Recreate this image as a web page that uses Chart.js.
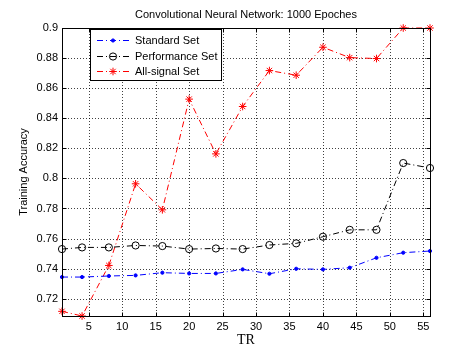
<!DOCTYPE html>
<html>
<head>
<meta charset="utf-8">
<script src="https://cdn.jsdelivr.net/npm/chart.js@4.4.1/dist/chart.umd.min.js"></script>
<style>
  html, body { margin: 0; padding: 0; background: #fff; }
  #wrap { width: 474px; height: 355px; position: relative; }
</style>
</head>
<body>
<div id="wrap"><canvas id="c" width="474" height="355"></canvas></div>
<script>
const chartTitle = 'Convolutional Neural Network: 1000 Epoches';
const xAxisTitle = 'TR';
const yAxisTitle = 'Training Accuracy';
const seriesNames = ['Standard Set', 'Performance Set', 'All-signal Set'];
const trValues = [1, 4, 8, 12, 16, 20, 24, 28, 32, 36, 40, 44, 48, 52, 56];
const standardSet = [0.7344, 0.7344, 0.7351, 0.7355, 0.7373, 0.7368, 0.7368, 0.7395, 0.7366, 0.7399, 0.7395, 0.7406, 0.7472, 0.7506, 0.7517];
const performanceSet = [0.7530, 0.7541, 0.7541, 0.7554, 0.7550, 0.7530, 0.7534, 0.7530, 0.7557, 0.7568, 0.7612, 0.7658, 0.7658, 0.8102, 0.8069];
const allSignalSet = [0.7116, 0.7085, 0.7421, 0.7964, 0.7791, 0.8527, 0.8163, 0.8478, 0.8717, 0.8686, 0.8872, 0.8803, 0.8797, 0.9000, 0.9000];
const xTicks = [5, 10, 15, 20, 25, 30, 35, 40, 45, 50, 55];
const yTicks = [0.72, 0.74, 0.76, 0.78, 0.80, 0.82, 0.84, 0.86, 0.88, 0.90];
const xRange = [1, 56];
const yRange = [0.7085, 0.9];

const SANS = '"Liberation Sans", Arial, sans-serif';
const SERIF = '"Liberation Serif", "Times New Roman", serif';
const dashDot = [6, 3, 1, 3];

function toPoints(vals) { return trValues.map((x, i) => ({ x: x, y: vals[i] })); }

const datasets = [
  { label: seriesNames[0], data: toPoints(standardSet), borderColor: '#0000ff', backgroundColor: '#0000ff',
    pointStyle: 'circle', pointRadius: 1.6, pointBorderWidth: 1, pointBackgroundColor: '#0000ff', pointBorderColor: '#0000ff' },
  { label: seriesNames[1], data: toPoints(performanceSet), borderColor: '#000000', backgroundColor: 'rgba(0,0,0,0)',
    pointStyle: 'circle', pointRadius: 3.6, pointBorderWidth: 1, pointBackgroundColor: 'rgba(0,0,0,0)', pointBorderColor: '#000000' },
  { label: seriesNames[2], data: toPoints(allSignalSet), borderColor: '#ff0000', backgroundColor: '#ff0000',
    pointStyle: 'star', pointRadius: 3.8, pointBorderWidth: 1, pointBackgroundColor: '#ff0000', pointBorderColor: '#ff0000' }
].map(d => Object.assign(d, { borderWidth: 1, borderDash: dashDot, tension: 0, clip: false, fill: false, pointHoverRadius: d.pointRadius }));

const framePlugin = {
  id: 'frame',
  beforeDatasetsDraw(chart) {
    const ctx = chart.ctx, a = chart.chartArea;
    const xs = chart.scales.x, ys = chart.scales.y;
    ctx.save();
    ctx.strokeStyle = 'rgba(0,0,0,0.75)';
    ctx.lineWidth = 1;
    ctx.setLineDash([1, 2]);
    xTicks.forEach(v => {
      const px = Math.round(xs.getPixelForValue(v)) + 0.5;
      ctx.beginPath(); ctx.moveTo(px, a.top); ctx.lineTo(px, a.bottom); ctx.stroke();
    });
    yTicks.forEach(v => {
      const py = Math.round(ys.getPixelForValue(v)) + 0.5;
      if (Math.abs(py - a.top) < 1.5) return;
      ctx.beginPath(); ctx.moveTo(a.left, py); ctx.lineTo(a.right, py); ctx.stroke();
    });
    ctx.restore();
  },
  afterDatasetsDraw(chart) {
    const ctx = chart.ctx, a = chart.chartArea;
    const xs = chart.scales.x, ys = chart.scales.y;
    ctx.save();
    ctx.strokeStyle = '#000';
    ctx.lineWidth = 1;
    ctx.setLineDash([]);
    const L = Math.round(a.left) + 0.5, R = Math.round(a.right) + 0.5;
    const T = Math.round(a.top) + 0.5, B = Math.round(a.bottom) + 0.5;
    ctx.strokeRect(L, T, R - L, B - T);
    const tl = 4;
    xTicks.forEach(v => {
      const px = Math.round(xs.getPixelForValue(v)) + 0.5;
      ctx.beginPath(); ctx.moveTo(px, B); ctx.lineTo(px, B - tl); ctx.moveTo(px, T); ctx.lineTo(px, T + tl); ctx.stroke();
    });
    yTicks.forEach(v => {
      const py = Math.round(ys.getPixelForValue(v)) + 0.5;
      ctx.beginPath(); ctx.moveTo(L, py); ctx.lineTo(L + tl, py); ctx.moveTo(R, py); ctx.lineTo(R - tl, py); ctx.stroke();
    });
    ctx.restore();
  },
  afterDraw(chart) {
    const ctx = chart.ctx, a = chart.chartArea;
    ctx.save();
    ctx.fillStyle = '#000';
    ctx.textAlign = 'center';
    ctx.textBaseline = 'middle';
    ctx.font = '11px ' + SANS;
    ctx.fillText(chartTitle, (a.left + a.right) / 2, 15);
    ctx.font = '14px ' + SERIF;
    ctx.fillText(xAxisTitle, (a.left + a.right) / 2, 340);
    ctx.save();
    ctx.translate(24, (a.top + a.bottom) / 2);
    ctx.rotate(-Math.PI / 2);
    ctx.font = '11px ' + SANS;
    ctx.fillText(yAxisTitle, 0, 0);
    ctx.restore();
    ctx.restore();

    // legend
    const bx = 90.5, by = 29.5, bw = 131, bh = 51;
    ctx.save();
    ctx.fillStyle = '#fff';
    ctx.fillRect(bx, by, bw, bh);
    ctx.strokeStyle = '#000';
    ctx.lineWidth = 1;
    ctx.strokeRect(bx, by, bw, bh);
    ctx.restore();
    const rows = [40, 55.5, 71];
    chart.data.datasets.forEach((ds, i) => {
      const y = Math.round(rows[i]) + 0.5;
      ctx.save();
      ctx.strokeStyle = ds.borderColor;
      ctx.lineWidth = 1;
      ctx.setLineDash(dashDot);
      ctx.beginPath(); ctx.moveTo(97, y); ctx.lineTo(129, y); ctx.stroke();
      ctx.setLineDash([]);
      ctx.fillStyle = ds.pointBackgroundColor;
      ctx.strokeStyle = ds.pointBorderColor;
      ctx.lineWidth = ds.pointBorderWidth;
      Chart.helpers.drawPoint(ctx, {
        pointStyle: ds.pointStyle, radius: ds.pointRadius, rotation: 0, borderWidth: ds.pointBorderWidth
      }, 113, y);
      ctx.restore();
      ctx.save();
      ctx.fillStyle = '#000';
      ctx.font = '11px ' + SANS;
      ctx.textAlign = 'left';
      ctx.textBaseline = 'middle';
      ctx.fillText(ds.label, 135, y);
      ctx.restore();
    });
  }
};

new Chart(document.getElementById('c'), {
  type: 'line',
  data: { datasets: datasets },
  options: {
    responsive: false,
    animation: false,
    devicePixelRatio: 1,
    layout: { padding: { left: 0, right: 44, top: 28, bottom: 0 } },
    plugins: { legend: { display: false }, title: { display: false }, tooltip: { enabled: false } },
    scales: {
      x: {
        type: 'linear', min: xRange[0], max: xRange[1],
        afterBuildTicks: s => { s.ticks = xTicks.map(v => ({ value: v })); },
        afterFit: s => { s.height = 39; },
        grid: { display: false, drawTicks: false },
        border: { display: false },
        ticks: { padding: 4, color: '#000', font: { family: SANS, size: 11 }, maxRotation: 0, autoSkip: false,
                 callback: v => String(v) }
      },
      y: {
        type: 'linear', min: yRange[0], max: yRange[1],
        afterBuildTicks: s => { s.ticks = yTicks.map(v => ({ value: v })); },
        afterFit: s => { s.width = 62; },
        grid: { display: false, drawTicks: false },
        border: { display: false },
        ticks: { padding: 4, color: '#000', font: { family: SANS, size: 11 }, autoSkip: false,
                 callback: v => String(+(+v).toFixed(2)) }
      }
    }
  },
  plugins: [framePlugin]
});
</script>
</body>
</html>
